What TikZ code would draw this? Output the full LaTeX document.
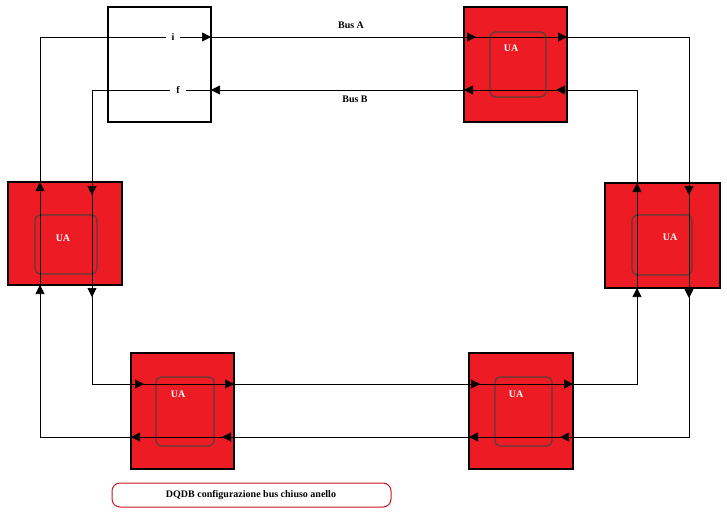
\documentclass[tikz,border=0pt]{standalone}
\usepackage{fontspec}
\setmainfont{Liberation Serif}
\usetikzlibrary{arrows.meta}
\definecolor{uared}{RGB}{237,28,36}
\definecolor{innerc}{RGB}{90,60,60}
\tikzset{
 ua/.style={draw=black,line width=1.5pt,fill=uared},
 innerbox/.style={draw=innerc,line width=1.2pt,rounded corners=5pt},
 lbl/.style={font=\bfseries\fontsize{10}{12}\selectfont},
 ualbl/.style={font=\bfseries\fontsize{10}{12}\selectfont,text=white},
 bus/.style={line width=0.7pt},
 tip/.style={-{Triangle[length=9pt,width=9pt]},line width=0.7pt},
}
\newcommand{\tipR}[2]{\draw[tip] (#1-12,#2)--(#1,#2);}
\newcommand{\tipL}[2]{\draw[tip] (#1+12,#2)--(#1,#2);}
\newcommand{\tipU}[2]{\draw[tip] (#1,#2+12)--(#1,#2);}
\newcommand{\tipD}[2]{\draw[tip] (#1,#2-12)--(#1,#2);}
\begin{document}
\begin{tikzpicture}[x=1pt,y=-1pt]
\useasboundingbox (0,0) rectangle (727,514);
% boxes
\draw[line width=1.5pt,fill=white] (108,7) rectangle (211,122);
\path[ua] (464,7) rectangle (567,122);
\path[ua] (605,183) rectangle (720,288);
\path[ua] (8,182) rectangle (122,285);
\path[ua] (131,353) rectangle (234,469);
\path[ua] (469,353) rectangle (573,469);
\path[innerbox] (490,32) rectangle (546,97);
\path[innerbox] (632,215) rectangle (692,275);
\path[innerbox] (35,215) rectangle (97,274);
\path[innerbox] (156,377) rectangle (214,446);
\path[innerbox] (495,377) rectangle (552,446);
\node[ualbl] (ua1) at (511,48) {UA};
\node[ualbl] (ua2) at (670,237) {UA};
\node[ualbl] (ua3) at (63,238) {UA};
\node[ualbl] (ua4) at (178,394) {UA};
\node[ualbl] (ua5) at (516,394) {UA};
% bus A
\draw[bus] (166,37) -- (40,37) -- (40,437) -- (689,437) -- (689,37) -- (180,37);
% bus B
\draw[bus] (170,90) -- (92,90) -- (92,384) -- (637,384) -- (637,90) -- (186,90);
\node[lbl,fill=white,inner sep=1pt] (i) at (173,37) {i};
\node[lbl,fill=white,inner sep=1pt] (f) at (178,90) {f};
\node[lbl] (busA) at (351,25) {Bus A};
\node[lbl] (busB) at (355,99) {Bus B};
% arrow tips
\tipR{211}{37}\tipL{211}{90}
\tipR{476}{37}\tipR{567}{37}\tipL{464}{90}\tipL{556}{90}
\tipD{689}{195}\tipD{689}{298}\tipU{637}{183}\tipU{637}{288}
\tipL{560}{437}\tipL{469}{437}\tipR{480}{384}\tipR{573}{384}
\tipL{222}{437}\tipL{131}{437}\tipR{144}{384}\tipR{234}{384}
\tipU{40}{182}\tipU{40}{285}\tipD{92}{195}\tipD{92}{297}
% caption
\draw[uared!85!black,line width=1pt,rounded corners=8pt,fill=white] (112,483) rectangle (391,507);
\node[lbl] (cap) at (251,495) {DQDB configurazione bus chiuso anello};
\end{tikzpicture}
\end{document}
